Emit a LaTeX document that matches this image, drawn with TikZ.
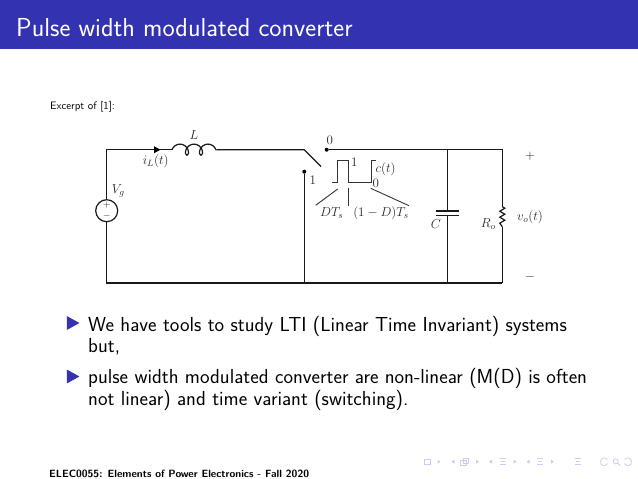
\documentclass[tikz,border=0pt]{standalone}
\usepackage{fix-cm}
\usepackage{fontspec}
\usetikzlibrary{decorations.pathmorphing,shapes.geometric}
\definecolor{barblue}{RGB}{51,51,178}
\definecolor{navblue}{RGB}{205,205,240}
\newcommand{\fsz}[1]{\fontsize{#1}{#1}\selectfont}

\begin{document}
\begin{tikzpicture}[x=1pt,y=-1pt]
        \tikzstyle{every node}=[inner sep=0pt]
        \tikzstyle{wire}=[draw=black!90,line width=1.2pt]
        \tikzstyle{thin wire}=[draw=black!80,line width=0.9pt]
        \tikzstyle{term}=[circle,fill=black,minimum size=4pt]
        \tikzstyle{lab}=[font=\fsz{13},text=black!85]
        \tikzstyle{body}=[anchor=base west,font=\sffamily\fsz{20.3}]
        \tikzstyle{bullet}=[isosceles triangle,isosceles triangle apex angle=58,fill=barblue,minimum height=12.5pt,minimum width=12pt]
        \tikzstyle{nav}=[draw=navblue,line width=0.8pt]
        \useasboundingbox (0,0) rectangle (638,479);
        \fill[white] (0,0) rectangle (638,479);
        \fill[barblue] (0,0) rectangle (638,48.5);
        \node[anchor=base west,text=white,font=\sffamily\fsz{26}] (title) at (16,36) {Pulse width modulated converter};
        \node[anchor=base west,font=\sffamily\fsz{10.8}] (excerpt) at (50,109) {Excerpt of [1]:};
        % circuit corners and terminals
        \coordinate (tl) at (106.7,149.7);
        \coordinate (bl) at (106.7,283);
        \coordinate (lin) at (172,149.7);
        \coordinate (lout) at (216.7,149.7);
        \coordinate (sw) at (304.3,149.7);
        \coordinate (swend) at (321,166.5);
        \coordinate (bsw) at (304.3,283);
        \coordinate (tc) at (447.7,149.7);
        \coordinate (bc) at (447.7,283);
        \coordinate (tr) at (502.3,149.7);
        \coordinate (br) at (502.3,283);
        \coordinate (rtop) at (502.3,206.7);
        \coordinate (rbot) at (502.3,226.7);
        \coordinate (ctop) at (447.7,211);
        \coordinate (cbot) at (447.7,215.7);
        \node[term] (t0) at (326.7,149.7) {};
        \node[term] (t1) at (304.3,171.7) {};
        \node[circle,wire,minimum size=22pt,fill=white,align=center,font=\fsz{10},text=black!85] (vg) at (106.7,210.7) {$+$\\[1pt]$-$};
        \draw[wire] (vg) -- (tl) -- (lin);
        \draw[wire] (vg) -- (bl) -- (br);
        \draw[wire,decorate,decoration={coil,aspect=0.8,amplitude=5.6pt,segment length=14pt}] (lin) -- (lout);
        \draw[wire] (lout) -- (sw) -- (swend);
        \draw[wire] (t1) -- (bsw);
        \draw[wire] (t0) -- (tr) -- (rtop);
        \draw[wire] (rbot) -- (br);
        \draw[wire] (tc) -- (ctop);
        \draw[wire] (cbot) -- (bc);
        \draw[wire] (436.3,211) -- (459,211);
        \draw[wire] (436.3,215.7) -- (459,215.7);
        \draw[wire] (rtop) -- ++(2.5,1.5) -- ++(-5,3) -- ++(5,3) -- ++(-5,3) -- ++(5,3) -- ++(-5,3) -- (rbot);
        \fill[black] (154,146.2) -- (160.5,149.7) -- (154,153.2) -- cycle;
        % pulse
        \draw[thin wire] (332.3,182.7) -- (337.3,182.7) -- (337.3,160.7) -- (348.3,160.7) -- (348.3,182.7) -- (371,182.7) -- (371,160.7) -- (376,160.7);
        \draw[thin wire] (337.7,189) -- (315.7,205.3);
        \draw[thin wire] (348.7,187.7) -- (348.7,205.7);
        \draw[thin wire] (370.7,188.3) -- (409,205.7);
        % labels
        \node[lab] (ll) at (194,135.5) {$L$};
        \node[lab] (il) at (155.7,161.5) {$i_L(t)$};
        \node[lab] (lvg) at (118.3,190.7) {$V_g$};
        \node[lab] (l0) at (329.7,140.7) {0};
        \node[lab] (l1) at (312.7,180) {1};
        \node[lab] (p1) at (354.3,162) {1};
        \node[lab] (p0) at (375.7,183) {0};
        \node[lab] (ct) at (385.7,169) {$c(t)$};
        \node[lab] (dts) at (331.7,213.5) {$DT_s$};
        \node[lab] (dpts) at (381,213.5) {$(1-D)T_s$};
        \node[lab] (lc) at (436,224) {$C$};
        \node[lab] (lr) at (488.3,224) {$R_o$};
        \node[lab] (vo) at (530,217.5) {$v_o(t)$};
        \node[lab] (plus) at (530,156) {$+$};
        \node[lab] (minus) at (530,277.7) {$-$};
        % bullets
        \node[bullet] (b1) at (71,323) {};
        \node[bullet] (b2) at (71,376.5) {};
        \node[body] (t1a) at (88,331) {We have tools to study LTI (Linear Time Invariant) systems};
        \node[body] (t1b) at (88,352) {but,};
        \node[body] (t2a) at (88,383) {pulse width modulated converter are non-linear (M(D) is often};
        \node[body] (t2b) at (88,405) {not linear) and time variant (switching).};
        \node[anchor=base west,font=\sffamily\bfseries\fsz{10.5}] (foot) at (49,477.5) {ELEC0055: Elements of Power Electronics - Fall 2020};
        % navigation symbols
        \draw[nav] (424.5,459.5) rectangle (430,464);
        \fill[navblue] (437.5,459.7) -- (440.5,461.7) -- (437.5,463.7) -- cycle;
        \fill[navblue] (454.5,459.7) -- (451.5,461.7) -- (454.5,463.7) -- cycle;
        \draw[nav] (460.5,460) rectangle (466,465);
        \draw[nav] (463,458) rectangle (468.5,463);
        \fill[navblue] (476,459.7) -- (479,461.7) -- (476,463.7) -- cycle;
        \fill[navblue] (492,459.7) -- (489,461.7) -- (492,463.7) -- cycle;
        \draw[nav] (499.5,458.5) -- (505.5,458.5) (500.5,461.5) -- (504.5,461.5) (499.5,464.5) -- (505.5,464.5);
        \fill[navblue] (513.5,459.7) -- (516.5,461.7) -- (513.5,463.7) -- cycle;
        \fill[navblue] (529.5,459.7) -- (526.5,461.7) -- (529.5,463.7) -- cycle;
        \draw[nav] (537,458.5) -- (543,458.5) (538,461.5) -- (542,461.5) (537,464.5) -- (543,464.5);
        \fill[navblue] (551,459.7) -- (554,461.7) -- (551,463.7) -- cycle;
        \draw[nav] (574.5,458.5) -- (580.5,458.5) (575.5,461.5) -- (579.5,461.5) (574.5,464.5) -- (580.5,464.5);
        \draw[nav] (607.5,459.5) .. controls (605,456.5) and (600.5,458) .. (600.5,462) .. controls (600.5,466) and (606,467) .. (607.5,463.5);
        \draw[nav] (615.7,458.7) .. controls (619,458.7) and (619,464) .. (615.7,464) .. controls (612.5,464) and (612.5,458.7) .. (615.7,458.7);
        \draw[nav] (618,463.5) -- (620,465.5);
        \draw[nav] (624.5,459.5) .. controls (627,456.5) and (631.5,458) .. (631.5,462) .. controls (631.5,466) and (626,467) .. (624.5,463.5);
    \end{tikzpicture}
\end{document}
